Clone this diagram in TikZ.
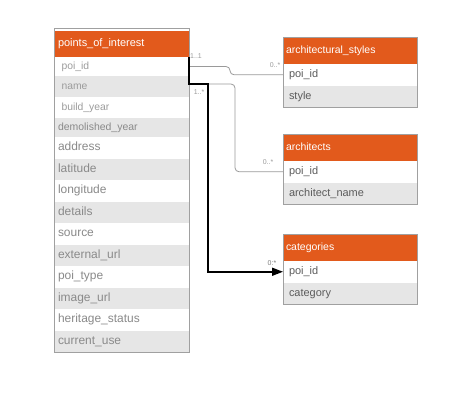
\documentclass[tikz,border=0pt]{standalone}
\usepackage{fontspec}
\setmainfont{Liberation Sans}
\usetikzlibrary{positioning,arrows.meta}

\definecolor{hdr}{HTML}{E25A1C}
\definecolor{rowgray}{HTML}{E6E6E6}
\definecolor{framegray}{HTML}{A0A0A0}
\definecolor{fieldtxt}{HTML}{8A8A8A}
\definecolor{sidetxt}{HTML}{5C5C5C}
\definecolor{relgray}{HTML}{9A9A9A}

\tikzset{
  cell/.style={inner ysep=0pt, outer sep=0pt, minimum height=21.5bp, align=left,
    text height=8.5bp, text depth=2.5bp},
  head/.style={cell, fill=hdr, text=white, minimum height=26.5bp},
  mainhead/.style={head, inner xsep=3.5bp, text width=127.5bp,
    font=\fontsize{11}{13}\selectfont},
  mainrow/.style={cell, inner xsep=3.5bp, text width=127.5bp,
    font=\fontsize{12}{14}\selectfont, text=fieldtxt, fill=#1},
  mainrow/.default=white,
  mainsub/.style={cell, inner xsep=7bp, text width=120.5bp,
    font=\fontsize{10.4}{12}\selectfont, text=fieldtxt!85, fill=#1},
  mainsub/.default=white,
  sidehead/.style={head, inner xsep=3bp, text width=128bp,
    font=\fontsize{10.5}{12}\selectfont, minimum height=27bp},
  siderow/.style={cell, inner xsep=6bp, text width=122bp,
    font=\fontsize{11}{13}\selectfont, text=sidetxt, fill=#1},
  siderow/.default=white,
  box/.style={draw=framegray, line width=0.8bp},
  rel/.style={draw=relgray, line width=0.8bp, rounded corners=4bp},
  fk/.style={line width=1.6bp, -{Triangle[length=11bp,width=8bp]}},
  card/.style={font=\fontsize{7}{8}\selectfont, text=relgray, inner sep=0pt}
}

\begin{document}
\begin{tikzpicture}[x=1bp,y=-1bp]
  \useasboundingbox (0,0) rectangle (474,405);

  % points_of_interest
  \node[mainhead, anchor=north west] (poi-h) at (54.5,30.5) {points\_of\_interest};
  \node[mainsub, minimum height=19bp, below=0pt of poi-h] (poi-1) {poi\_id};
  \node[mainsub=rowgray, minimum height=21bp, below=0pt of poi-1] (poi-2) {name};
  \node[mainsub, minimum height=21bp, below=0pt of poi-2] (poi-3) {build\_year};
  \node[mainrow=rowgray, minimum height=18.5bp, font=\fontsize{10.5}{12}\selectfont,
    below=0pt of poi-3] (poi-4) {demolished\_year};
  \node[mainrow, minimum height=22bp, below=0pt of poi-4] (poi-5) {address};
  \node[mainrow=rowgray, below=0pt of poi-5] (poi-6) {latitude};
  \node[mainrow, below=0pt of poi-6] (poi-7) {longitude};
  \node[mainrow=rowgray, below=0pt of poi-7] (poi-8) {details};
  \node[mainrow, below=0pt of poi-8] (poi-9) {source};
  \node[mainrow=rowgray, below=0pt of poi-9] (poi-10) {external\_url};
  \node[mainrow, below=0pt of poi-10] (poi-11) {poi\_type};
  \node[mainrow=rowgray, below=0pt of poi-11] (poi-12) {image\_url};
  \node[mainrow, below=0pt of poi-12] (poi-13) {heritage\_status};
  \node[mainrow=rowgray, below=0pt of poi-13] (poi-14) {current\_use};
  \draw[box] ([yshift=2.5bp]poi-h.north west) rectangle (poi-14.south east);

  % architectural_styles
  \node[sidehead, anchor=north west] (ast-h) at (283,37) {architectural\_styles};
  \node[siderow, below=0pt of ast-h] (ast-1) {poi\_id};
  \node[siderow=rowgray, below=0pt of ast-1] (ast-2) {style};
  \draw[box] (ast-h.north west) rectangle (ast-2.south east);

  % architects
  \node[sidehead, anchor=north west] (arc-h) at (283,134) {architects};
  \node[siderow, below=0pt of arc-h] (arc-1) {poi\_id};
  \node[siderow=rowgray, below=0pt of arc-1] (arc-2) {architect\_name};
  \draw[box] (arc-h.north west) rectangle (arc-2.south east);

  % categories
  \node[sidehead, anchor=north west] (cat-h) at (283,234) {categories};
  \node[siderow, below=0pt of cat-h] (cat-1) {poi\_id};
  \node[siderow=rowgray, below=0pt of cat-1] (cat-2) {category};
  \draw[box] (cat-h.north west) rectangle (cat-2.south east);

  % relations
  \coordinate (split) at (208,84);
  \draw[rel] (poi-1.east) -- ++(41,0) |- (ast-1.west);
  \draw[rel] (split) -- ++(27,0) |- (arc-1.west);
  \draw[fk] (poi-h.south east) |- (split) |- (cat-1.west);

  \node[card] (m-11) at (196,56) {1..1};
  \node[card] (m-as) at (275,65) {0..*};
  \node[card] (m-1n) at (199,92) {1..*};
  \node[card] (m-ar) at (268,162) {0..*};
  \node[card, text=relgray!80!black] (m-ca) at (272,263) {0:*};
\end{tikzpicture}
\end{document}
